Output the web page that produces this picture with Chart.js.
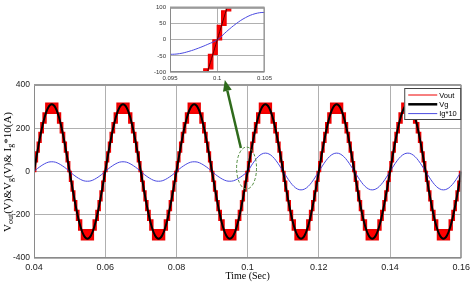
<!DOCTYPE html>
<html><head><meta charset="utf-8">
<script src="https://cdn.jsdelivr.net/npm/chart.js@4/dist/chart.umd.min.js"></script>
<style>
html,body{margin:0;padding:0;background:#fff;}
#wrap{position:relative;width:474px;height:282px;overflow:hidden;background:#fff;}
#main{position:absolute;left:0;top:0;}
#inset{position:absolute;left:140px;top:0;}
#ytitle{position:absolute;left:7px;top:172px;transform:translate(-50%,-50%) rotate(-90deg);font-family:"Liberation Serif",serif;font-size:11px;white-space:nowrap;color:#000;line-height:12px;}
#ytitle sub{font-size:8px;vertical-align:-2px;line-height:0;}
</style></head>
<body>
<div id="wrap">
<canvas id="main" width="474" height="282"></canvas>
<canvas id="inset" width="135" height="86"></canvas>
<div id="ytitle">V<sub>out</sub>(V)&amp;V<sub>g</sub>(V)&amp; I<sub>g</sub>*10(A)</div>
</div>
<script>
// ---- sample times (s) ----
const timeS = [
0.040,0.041,0.042,0.043,0.044,0.045,0.046,0.047,0.048,0.049,
0.050,0.051,0.052,0.053,0.054,0.055,0.056,0.057,0.058,0.059,
0.060,0.061,0.062,0.063,0.064,0.065,0.066,0.067,0.068,0.069,
0.070,0.071,0.072,0.073,0.074,0.075,0.076,0.077,0.078,0.079,
0.080,0.081,0.082,0.083,0.084,0.085,0.086,0.087,0.088,0.089,
0.090,0.091,0.092,0.093,0.094,0.095,0.096,0.097,0.098,0.099,
0.100,0.101,0.102,0.103,0.104,0.105,0.106,0.107,0.108,0.109,
0.110,0.111,0.112,0.113,0.114,0.115,0.116,0.117,0.118,0.119,
0.120,0.121,0.122,0.123,0.124,0.125,0.126,0.127,0.128,0.129,
0.130,0.131,0.132,0.133,0.134,0.135,0.136,0.137,0.138,0.139,
0.140,0.141,0.142,0.143,0.144,0.145,0.146,0.147,0.148,0.149,
0.150,0.151,0.152,0.153,0.154,0.155,0.156,0.157,0.158,0.159,
0.160];
// ---- grid voltage Vg (V) ----
const vgValues = [
0,96,183,252,296,311,296,252,183,96,0,-96,-183,-252,-296,-311,-296,-252,-183,-96,
0,96,183,252,296,311,296,252,183,96,0,-96,-183,-252,-296,-311,-296,-252,-183,-96,
0,96,183,252,296,311,296,252,183,96,0,-96,-183,-252,-296,-311,-296,-252,-183,-96,
0,96,183,252,296,311,296,252,183,96,0,-96,-183,-252,-296,-311,-296,-252,-183,-96,
0,96,183,252,296,311,296,252,183,96,0,-96,-183,-252,-296,-311,-296,-252,-183,-96,
0,96,183,252,296,311,296,252,183,96,0,-96,-183,-252,-296,-311,-296,-252,-183,-96,
0];
// ---- grid current Ig*10 ----
const igValues = [
0,14,26,36,43,45,43,36,26,14,0,-14,-26,-36,-43,-45,-43,-36,-26,-14,
0,14,26,36,43,45,43,36,26,14,0,-14,-26,-36,-43,-45,-43,-36,-26,-14,
0,14,26,36,43,45,43,36,26,14,0,-14,-26,-36,-43,-45,-43,-36,-26,-14,
0,26,50,69,81,85,81,69,50,26,0,-26,-50,-69,-81,-85,-81,-69,-50,-26,
0,26,50,69,81,85,81,69,50,26,0,-26,-50,-69,-81,-85,-81,-69,-50,-26,
0,26,50,69,81,85,81,69,50,26,0,-26,-50,-69,-81,-85,-81,-69,-50,-26,
0];
// ---- inverter output Vout: level-change times and PWM band (low/high level) ----
const voutTimes = [
0.04,0.040462,0.040935,0.041429,0.041965,0.042577,0.043349,0.046651,0.047423,0.048035,0.048571,0.049065,0.049538,
0.05,0.050462,0.050935,0.051429,0.051965,0.052577,0.053349,0.056651,0.057423,0.058035,0.058571,0.059065,0.059538,
0.06,0.060462,0.060935,0.061429,0.061965,0.062577,0.063349,0.066651,0.067423,0.068035,0.068571,0.069065,0.069538,
0.07,0.070462,0.070935,0.071429,0.071965,0.072577,0.073349,0.076651,0.077423,0.078035,0.078571,0.079065,0.079538,
0.08,0.080462,0.080935,0.081429,0.081965,0.082577,0.083349,0.086651,0.087423,0.088035,0.088571,0.089065,0.089538,
0.09,0.090462,0.090935,0.091429,0.091965,0.092577,0.093349,0.096651,0.097423,0.098035,0.098571,0.099065,0.099538,
0.1,0.100462,0.100935,0.101429,0.101965,0.102577,0.103349,0.106651,0.107423,0.108035,0.108571,0.109065,0.109538,
0.11,0.110462,0.110935,0.111429,0.111965,0.112577,0.113349,0.116651,0.117423,0.118035,0.118571,0.119065,0.119538,
0.12,0.120462,0.120935,0.121429,0.121965,0.122577,0.123349,0.126651,0.127423,0.128035,0.128571,0.129065,0.129538,
0.13,0.130462,0.130935,0.131429,0.131965,0.132577,0.133349,0.136651,0.137423,0.138035,0.138571,0.139065,0.139538,
0.14,0.140462,0.140935,0.141429,0.141965,0.142577,0.143349,0.146651,0.147423,0.148035,0.148571,0.149065,0.149538,
0.15,0.150462,0.150935,0.151429,0.151965,0.152577,0.153349,0.156651,0.157423,0.158035,0.158571,0.159065,0.159538,
0.16];
const voutLow = [
0,45,90,135,180,225,270,225,180,135,90,45,0,-45,-90,-135,-180,-225,-270,-315,-270,-225,-180,-135,-90,-45,
0,45,90,135,180,225,270,225,180,135,90,45,0,-45,-90,-135,-180,-225,-270,-315,-270,-225,-180,-135,-90,-45,
0,45,90,135,180,225,270,225,180,135,90,45,0,-45,-90,-135,-180,-225,-270,-315,-270,-225,-180,-135,-90,-45,
0,45,90,135,180,225,270,225,180,135,90,45,0,-45,-90,-135,-180,-225,-270,-315,-270,-225,-180,-135,-90,-45,
0,45,90,135,180,225,270,225,180,135,90,45,0,-45,-90,-135,-180,-225,-270,-315,-270,-225,-180,-135,-90,-45,
0,45,90,135,180,225,270,225,180,135,90,45,0,-45,-90,-135,-180,-225,-270,-315,-270,-225,-180,-135,-90,-45];
const voutHigh = [
45,90,135,180,225,270,315,270,225,180,135,90,45,0,-45,-90,-135,-180,-225,-270,-225,-180,-135,-90,-45,0,
45,90,135,180,225,270,315,270,225,180,135,90,45,0,-45,-90,-135,-180,-225,-270,-225,-180,-135,-90,-45,0,
45,90,135,180,225,270,315,270,225,180,135,90,45,0,-45,-90,-135,-180,-225,-270,-225,-180,-135,-90,-45,0,
45,90,135,180,225,270,315,270,225,180,135,90,45,0,-45,-90,-135,-180,-225,-270,-225,-180,-135,-90,-45,0,
45,90,135,180,225,270,315,270,225,180,135,90,45,0,-45,-90,-135,-180,-225,-270,-225,-180,-135,-90,-45,0,
45,90,135,180,225,270,315,270,225,180,135,90,45,0,-45,-90,-135,-180,-225,-270,-225,-180,-135,-90,-45,0];
const legendLabels = ['Vout','Vg','Ig*10'];
const xTicksMain = [0.04,0.06,0.08,0.1,0.12,0.14,0.16];
const yTicksMain = [-400,-200,0,200,400];
const xTicksInset = [0.095,0.1,0.105];
const yTicksInset = [-100,-50,0,50,100];
// annotation (data coordinates): arrow tail/head, dashed ellipse centre and radii
const arrowTail = {x:0.0981, y:109};
const arrowHead = {x:0.0936, y:423};
const ellipseC = {x:0.0997, y:16, rx:0.0028, ry:97};

// ---- build point tables ----
const vgPts = timeS.map((x,i)=>({x, y:vgValues[i]}));
const igPts = timeS.map((x,i)=>({x, y:igValues[i]}));
function stepPts(levels){
  const p=[];
  for(let i=0;i<levels.length;i++){p.push({x:voutTimes[i],y:levels[i]});p.push({x:voutTimes[i+1],y:levels[i]});}
  return p;
}
const loPts = stepPts(voutLow), hiPts = stepPts(voutHigh);
const fmt = v => String(parseFloat(Number(v).toFixed(4)));

function datasets(vgW, vgColor, redW){
  return [
    {label:'Vg', data:vgPts, borderColor:vgColor, borderWidth:vgW, pointRadius:0, tension:0.4, fill:false, order:0},
    {label:'Ig*10', data:igPts, borderColor:'#4a4ae0', borderWidth:1, pointRadius:0, tension:0.4, fill:false, order:1},
    {label:'VoutLow', data:loPts, borderColor:'#ee0000', borderWidth:redW, pointRadius:0, tension:0, fill:false, order:2},
    {label:'Vout', data:hiPts, borderColor:'#ee0000', backgroundColor:'#ff0000', borderWidth:redW, pointRadius:0, tension:0, fill:'-1', order:2}
  ];
}

const framePlugin = {id:'frame', afterDatasetsDraw(chart){
  const {ctx, chartArea:a} = chart; ctx.save();
  ctx.strokeStyle='#8a8a8a'; ctx.lineWidth=1;
  ctx.strokeRect(a.left+0.5, a.top+0.5, a.right-a.left-1, a.bottom-a.top-1);
  ctx.lineWidth=2; ctx.strokeStyle='#9a9a9a';
  ctx.beginPath(); ctx.moveTo(a.left, a.top); ctx.lineTo(a.right, a.top); ctx.stroke();
  ctx.restore();
}};

const legendPlugin = {id:'boxLegend', afterDraw(chart){
  const {ctx, chartArea:a} = chart;
  const x0 = a.right-57, y0 = a.top+3, w = 56, h = 31;
  ctx.save();
  ctx.fillStyle='#fff'; ctx.fillRect(x0,y0,w,h);
  ctx.strokeStyle='#444'; ctx.lineWidth=1; ctx.strokeRect(x0+0.5,y0+0.5,w,h);
  ctx.font='7.5px "Liberation Sans", Arial, sans-serif'; ctx.textBaseline='middle'; ctx.fillStyle='#000';
  legendLabels.forEach((lab,i)=>{
    const ds = chart.data.datasets.find(d=>d.label===lab);
    const y = y0+7+i*9.3;
    ctx.strokeStyle = ds.borderColor; ctx.lineWidth = lab==='Vg'?2.5:1;
    ctx.beginPath(); ctx.moveTo(x0+4,y); ctx.lineTo(x0+33,y); ctx.stroke();
    ctx.fillText(lab, x0+35, y+0.5);
  });
  ctx.restore();
}};

const annotPlugin = {id:'annot', afterDraw(chart){
  const {ctx, scales:{x, y}} = chart;
  ctx.save();
  ctx.strokeStyle='#4f8a3c'; ctx.lineWidth=1; ctx.setLineDash([3,2]);
  const cx=x.getPixelForValue(ellipseC.x), cy=y.getPixelForValue(ellipseC.y);
  const rx=Math.abs(x.getPixelForValue(ellipseC.x+ellipseC.rx)-cx), ry=Math.abs(y.getPixelForValue(ellipseC.y+ellipseC.ry)-cy);
  ctx.beginPath(); ctx.ellipse(cx,cy,rx,ry,0,0,Math.PI*2); ctx.stroke();
  ctx.setLineDash([]);
  const tx=x.getPixelForValue(arrowTail.x), ty=y.getPixelForValue(arrowTail.y);
  const hx=x.getPixelForValue(arrowHead.x), hy=y.getPixelForValue(arrowHead.y);
  const ang=Math.atan2(hy-ty,hx-tx), L=11, W=4.5;
  const bx=hx-L*Math.cos(ang), by=hy-L*Math.sin(ang);
  ctx.strokeStyle='#2f6b1c'; ctx.fillStyle='#2f6b1c'; ctx.lineWidth=2.5;
  ctx.beginPath(); ctx.moveTo(tx,ty); ctx.lineTo(bx,by); ctx.stroke();
  ctx.beginPath(); ctx.moveTo(hx,hy);
  ctx.lineTo(bx+W*Math.sin(ang), by-W*Math.cos(ang));
  ctx.lineTo(bx-W*Math.sin(ang), by+W*Math.cos(ang));
  ctx.closePath(); ctx.fill();
  ctx.restore();
}};

const gridColor = '#b0b0b0';
new Chart(document.getElementById('main'), {
  type:'line',
  data:{datasets:datasets(2,'#000',1.6)},
  options:{
    responsive:false, animation:false, events:[],
    layout:{padding:{left:0,right:8,top:85,bottom:0}},
    plugins:{legend:{display:false}, tooltip:{enabled:false}},
    scales:{
      x:{type:'linear', min:0.04, max:0.16,
        afterBuildTicks:s=>{s.ticks=xTicksMain.map(v=>({value:v}));},
        ticks:{autoSkip:false, maxRotation:0, color:'#222', padding:4, font:{family:'"Liberation Sans", Arial', size:9}, callback:v=>fmt(v)},
        grid:{color:gridColor, drawTicks:false}, border:{display:false},
        title:{display:true, text:'Time (Sec)', color:'#000', font:{family:'"Liberation Serif", serif', size:10}, padding:{top:1,bottom:0}},
        afterFit:s=>{s.height=24;}},
      y:{type:'linear', min:-400, max:400,
        afterBuildTicks:s=>{s.ticks=yTicksMain.map(v=>({value:v}));},
        ticks:{color:'#222', padding:4, font:{family:'"Liberation Sans", Arial', size:8.5}},
        grid:{color:gridColor, drawTicks:false}, border:{display:false},
        afterFit:s=>{s.width=34;}}
    }
  },
  plugins:[framePlugin, legendPlugin, annotPlugin]
});

new Chart(document.getElementById('inset'), {
  type:'line',
  data:{datasets:datasets(1,'#5a0000',1.2)},
  options:{
    responsive:false, animation:false, events:[],
    layout:{padding:{left:0,right:8,top:2,bottom:0}},
    plugins:{legend:{display:false}, tooltip:{enabled:false}},
    scales:{
      x:{type:'linear', min:0.095, max:0.105,
        afterBuildTicks:s=>{s.ticks=xTicksInset.map(v=>({value:v}));},
        ticks:{autoSkip:false, maxRotation:0, color:'#333', padding:3, font:{family:'"Liberation Sans", Arial', size:6}, callback:v=>fmt(v)},
        grid:{color:gridColor, drawTicks:false}, border:{display:false},
        afterFit:s=>{s.height=14;}},
      y:{type:'linear', min:-100, max:100,
        afterBuildTicks:s=>{s.ticks=yTicksInset.map(v=>({value:v}));},
        ticks:{color:'#333', padding:4, font:{family:'"Liberation Sans", Arial', size:6}},
        grid:{color:gridColor, drawTicks:false}, border:{display:false},
        afterFit:s=>{s.width=30;}}
    }
  },
  plugins:[framePlugin]
});
</script>
</body></html>
